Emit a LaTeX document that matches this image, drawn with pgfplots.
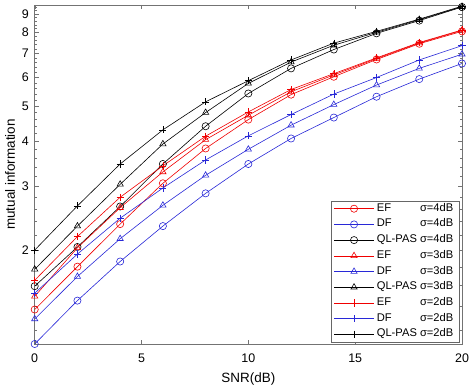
\documentclass[border=0pt]{standalone}
\usepackage{fontspec}
\setmainfont{Liberation Sans}
\usepackage{pgfplots}
\pgfplotsset{compat=1.18}
\definecolor{mred}{RGB}{240,0,0}
\definecolor{mblue}{RGB}{40,40,215}
\newcommand{\lab}[2]{\makebox[0pt][l]{#1}\phantom{QL-PAS }#2}
\begin{document}
\begin{tikzpicture}
\begin{axis}[
  scale only axis, width=427.3bp, height=339bp,
  ymode=log, xmin=0, xmax=20, ymin=1.1, ymax=9.52,
  xtick={0,5,10,15,20}, xticklabels={0,5,10,15,20},
  ytick={2,3,4,5,6,7,8,9}, yticklabels={2,3,4,5,6,7,8,9},
  minor ytick={1.2,1.4,1.6,1.8,2.2,2.4,2.6,2.8,3.2,3.4,3.6,3.8,4.2,4.4,4.6,4.8,5.2,5.4,5.6,5.8,6.2,6.4,6.6,6.8,7.2,7.4,7.6,7.8,8.2,8.4,8.6,8.8,9.2,9.4},
  axis line style={black!55}, tick style={black!55},
  major tick length=4bp, minor tick length=2bp,
  tick label style={font=\fontsize{12.5}{14}\selectfont},
  xticklabel style={yshift=-6bp},
  yticklabel style={xshift=-2.5bp},
  xlabel={SNR(dB)}, ylabel={mutual information},
  label style={font=\fontsize{13.5}{15}\selectfont},
  xlabel style={at={(axis description cs:0.5,0)}, anchor=base, yshift=-38.5bp},
  ylabel style={at={(axis description cs:0,0.5)}, anchor=base, yshift=19.7bp},
  every axis plot/.append style={line width=0.6bp, mark size=3.6bp, mark options={solid}},
  legend cell align=left,
  legend style={at={(axis description cs:1,0)}, anchor=south east, xshift=-3bp, yshift=2bp,
    draw=black!60, fill=white, font=\fontsize{11.2}{13}\selectfont,
    inner xsep=3bp, inner ysep=1.5bp, row sep=3.7bp,
    nodes={inner ysep=0pt, inner xsep=2.5bp, text height=8.5bp, text depth=3.5bp}},
  legend image code/.code={\draw[mark repeat=2,mark phase=2] plot coordinates {(0bp,0bp)(20bp,0bp)(40bp,0bp)};},
]
% EF sigma=4
\addplot[mred, mark=o] coordinates {(0,1.37)(2,1.80)(4,2.36)(6,3.06)(8,3.82)(10,4.59)(12,5.38)(14,6.03)(16,6.73)(18,7.44)(20,8.05)};
\addlegendentry{\lab{EF}{σ=4dB}}
% DF sigma=4
\addplot[mblue, mark=o] coordinates {(0,1.10)(2,1.45)(4,1.86)(6,2.33)(8,2.87)(10,3.46)(12,4.07)(14,4.65)(16,5.31)(18,5.94)(20,6.56)};
\addlegendentry{\lab{DF}{σ=4dB}}
% QL-PAS sigma=4
\addplot[black, mark=o] coordinates {(0,1.59)(2,2.04)(4,2.64)(6,3.46)(8,4.40)(10,5.42)(12,6.36)(14,7.17)(16,7.95)(18,8.62)(20,9.40)};
\addlegendentry{QL-PAS σ=4dB}
% EF sigma=3
\addplot[mred, mark=triangle] coordinates {(0,1.49)(2,2.03)(4,2.62)(6,3.29)(8,4.04)(10,4.72)(12,5.48)(14,6.10)(16,6.77)(18,7.47)(20,8.10)};
\addlegendentry{\lab{EF}{σ=3dB}}
% DF sigma=3
\addplot[mblue, mark=triangle] coordinates {(0,1.29)(2,1.69)(4,2.15)(6,2.66)(8,3.22)(10,3.80)(12,4.43)(14,5.05)(16,5.72)(18,6.36)(20,6.96)};
\addlegendentry{\lab{DF}{σ=3dB}}
% QL-PAS sigma=3
\addplot[black, mark=triangle] coordinates {(0,1.77)(2,2.33)(4,3.04)(6,3.93)(8,4.80)(10,5.78)(12,6.62)(14,7.37)(16,8.00)(18,8.67)(20,9.42)};
\addlegendentry{QL-PAS σ=3dB}
% EF sigma=2
\addplot[mred, mark=+] coordinates {(0,1.65)(2,2.18)(4,2.80)(6,3.42)(8,4.13)(10,4.82)(12,5.56)(14,6.15)(16,6.80)(18,7.50)(20,8.12)};
\addlegendentry{\lab{EF}{σ=2dB}}
% DF sigma=2
\addplot[mblue, mark=+] coordinates {(0,1.52)(2,1.95)(4,2.45)(6,2.97)(8,3.55)(10,4.14)(12,4.74)(14,5.40)(16,6.00)(18,6.71)(20,7.35)};
\addlegendentry{\lab{DF}{σ=2dB}}
% QL-PAS sigma=2
\addplot[black, mark=+] coordinates {(0,2.00)(2,2.65)(4,3.46)(6,4.30)(8,5.14)(10,5.88)(12,6.71)(14,7.47)(16,8.05)(18,8.70)(20,9.45)};
\addlegendentry{QL-PAS σ=2dB}
\end{axis}
\path ([shift={(-34.7bp,-44bp)}]current axis.south west) rectangle ([shift={(12bp,5bp)}]current axis.north east);
\end{tikzpicture}
\end{document}
